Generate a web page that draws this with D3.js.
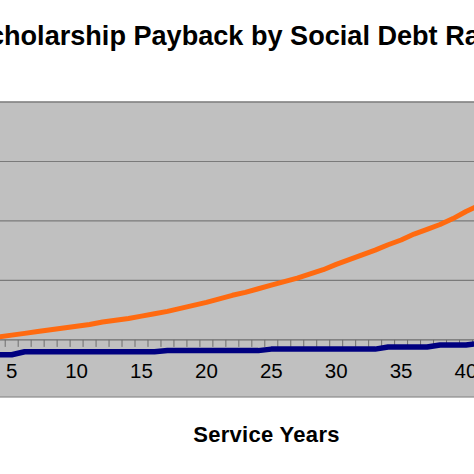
<!DOCTYPE html>
<html>
<head>
<meta charset="utf-8">
<script src="https://cdn.jsdelivr.net/npm/d3@7"></script>
<style>
  html, body { margin: 0; padding: 0; background: #fff; }
  svg { display: block; }
</style>
</head>
<body>
<svg id="chart" width="474" height="474"></svg>
<script>
// ---- data ----
const categories = [1,2,3,4,5,6,7,8,9,10,11,12,13,14,15,16,17,18,19,20,21,22,23,24,25,26,27,28,29,30,31,32,33,34,35,36,37,38,39,40,41,42];
const orangeSeries = [0.00,0.01,0.03,0.05,0.08,0.11,0.14,0.17,0.20,0.23,0.26,0.30,0.33,0.36,0.40,0.44,0.48,0.53,0.58,0.63,0.69,0.75,0.80,0.86,0.92,0.98,1.04,1.11,1.18,1.27,1.35,1.43,1.51,1.60,1.68,1.78,1.86,1.94,2.04,2.16,2.26,2.36];
const blueSeries = [-0.25,-0.25,-0.25,-0.25,-0.25,-0.20,-0.20,-0.20,-0.20,-0.20,-0.20,-0.20,-0.20,-0.20,-0.20,-0.20,-0.18,-0.18,-0.18,-0.18,-0.18,-0.18,-0.18,-0.18,-0.155,-0.155,-0.155,-0.155,-0.155,-0.155,-0.155,-0.155,-0.155,-0.12,-0.12,-0.12,-0.12,-0.085,-0.085,-0.085,-0.06,-0.05];
const tickLabels = [5,10,15,20,25,30,35,40];
const gridValues = [1,2,3,4];
const titleText = "Scholarship Payback by Social Debt Ratio";
const xTitle = "Service Years";

// ---- layout ----
const svg = d3.select("#chart");
const step = 12.98;
const xLeft = 11.7 - 4.5 * step;            // left edge of category 1
const x = d3.scaleBand().domain(categories)
  .range([xLeft, xLeft + categories.length * step]).padding(0);
const cx = c => x(c) + x.bandwidth() / 2;
const y = d3.scaleLinear().domain([-0.96, 4]).range([397, 102]);

// plot area
const [px0, px1] = x.range();
svg.append("rect")
  .attr("x", px0).attr("y", y(4))
  .attr("width", px1 - px0).attr("height", y(-0.96) - y(4))
  .attr("fill", "#c0c0c0").attr("stroke", "#8a8a8a").attr("stroke-width", 1.2);

// gridlines
svg.append("g").selectAll("line").data(gridValues).join("line")
  .attr("x1", px0).attr("x2", px1)
  .attr("y1", d => y(d)).attr("y2", d => y(d))
  .attr("stroke", "#7a7a7a").attr("stroke-width", 1.2);

// category axis at value 0
const axisY = y(0);
svg.append("line")
  .attr("x1", px0).attr("x2", px1).attr("y1", axisY).attr("y2", axisY)
  .attr("stroke", "#6e6e6e").attr("stroke-width", 1.2);
svg.append("g").selectAll("line").data(categories.concat(["end"])).join("line")
  .attr("x1", d => d === "end" ? px1 : x(d))
  .attr("x2", d => d === "end" ? px1 : x(d))
  .attr("y1", axisY).attr("y2", axisY + 7)
  .attr("stroke", "#6e6e6e").attr("stroke-width", 1);

const xAxis = d3.axisBottom(x).tickValues(tickLabels).tickSize(0).tickPadding(0);
const gx = svg.append("g").attr("transform", `translate(0,${axisY})`).call(xAxis);
gx.select(".domain").remove();
gx.selectAll("text")
  .attr("y", 38).attr("dy", null)
  .attr("font-family", "'Liberation Sans', Arial, sans-serif")
  .attr("font-size", 20.5).attr("fill", "#000");

// lines
const line = d3.line().x(d => cx(d.c)).y(d => y(d.v));
svg.append("path")
  .datum(categories.map((c, i) => ({c, v: blueSeries[i]})))
  .attr("d", line).attr("fill", "none")
  .attr("stroke", "#000080").attr("stroke-width", 5.5)
  .attr("stroke-linejoin", "round");
svg.append("path")
  .datum(categories.map((c, i) => ({c, v: orangeSeries[i]})))
  .attr("d", line).attr("fill", "none")
  .attr("stroke", "#ff6a10").attr("stroke-width", 5)
  .attr("stroke-linejoin", "round");

// title (cropped on both sides): size it so "h ... Ra" spans the visible width
const t = svg.append("text")
  .attr("y", 44.5)
  .attr("font-family", "'Liberation Sans', Arial, sans-serif")
  .attr("font-weight", "bold").attr("font-size", 26.5).attr("fill", "#000")
  .text(titleText);
const visibleSpan = t.node().getSubStringLength(2, 35);
const fs = 26.5 * 476 / visibleSpan;
t.attr("font-size", fs);
const pre = t.node().getSubStringLength(0, 2);
t.attr("x", 4 - pre);

// x-axis title
svg.append("text")
  .attr("x", 266.5).attr("y", 442).attr("text-anchor", "middle")
  .attr("font-family", "'Liberation Sans', Arial, sans-serif")
  .attr("font-weight", "bold").attr("font-size", 22).attr("fill", "#000")
  .attr("letter-spacing", 0.3)
  .text(xTitle);
</script>
</body>
</html>
